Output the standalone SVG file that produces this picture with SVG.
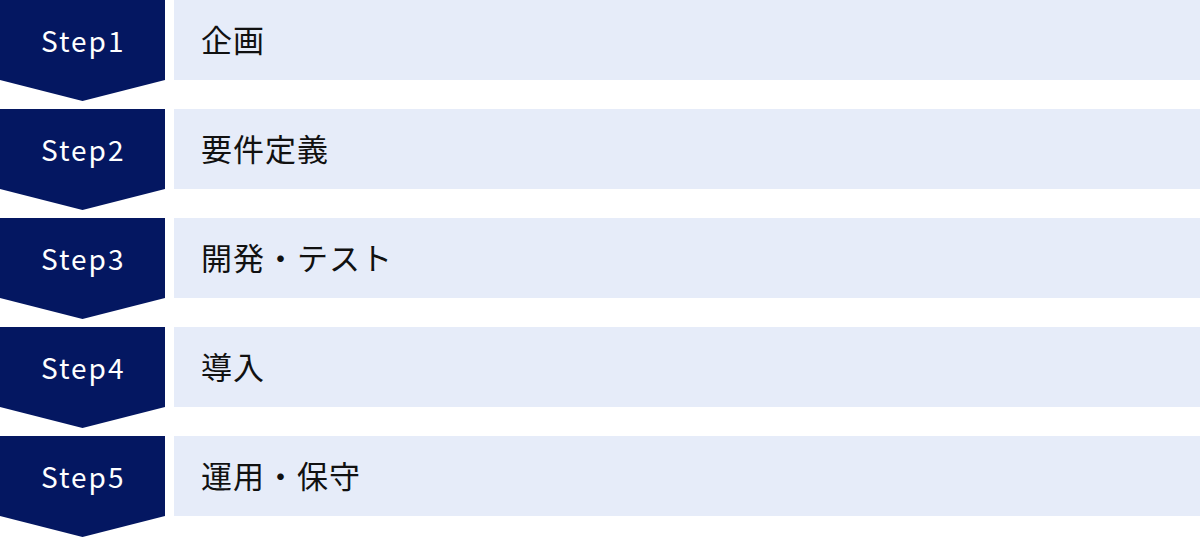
<svg xmlns="http://www.w3.org/2000/svg" width="1200" height="538" viewBox="0 0 1200 538">
  <defs>
    <style>
      .badge { fill: #041761; }
      .bar { fill: #E6ECF9; }
      .step { fill: #ffffff; font-family: "Noto Sans CJK JP", "Noto Sans", sans-serif; font-size: 28px; letter-spacing: 2px; }
      .label { fill: #111111; font-family: "Noto Sans CJK JP", sans-serif; font-size: 31px; letter-spacing: 1px; }
    </style>
    <polygon id="chev" points="0,0 165,0 165,80 82.5,101 0,80"/>
  </defs>
  <rect width="1200" height="538" fill="#ffffff"/>
  <g id="connectors"></g>
  <g id="step1" transform="translate(0,0)">
    <use href="#chev" class="badge"/>
    <rect x="174" y="0" width="1026" height="80" class="bar"/>
    <text x="41" y="52" class="step">Step1</text>
    <text x="201" y="52" class="label">企画</text>
  </g>
  <g id="step2" transform="translate(0,109)">
    <use href="#chev" class="badge"/>
    <rect x="174" y="0" width="1026" height="80" class="bar"/>
    <text x="41" y="52" class="step">Step2</text>
    <text x="201" y="52" class="label">要件定義</text>
  </g>
  <g id="step3" transform="translate(0,218)">
    <use href="#chev" class="badge"/>
    <rect x="174" y="0" width="1026" height="80" class="bar"/>
    <text x="41" y="52" class="step">Step3</text>
    <text x="201" y="52" class="label">開発・テスト</text>
  </g>
  <g id="step4" transform="translate(0,327)">
    <use href="#chev" class="badge"/>
    <rect x="174" y="0" width="1026" height="80" class="bar"/>
    <text x="41" y="52" class="step">Step4</text>
    <text x="201" y="52" class="label">導入</text>
  </g>
  <g id="step5" transform="translate(0,436)">
    <use href="#chev" class="badge"/>
    <rect x="174" y="0" width="1026" height="80" class="bar"/>
    <text x="41" y="52" class="step">Step5</text>
    <text x="201" y="52" class="label">運用・保守</text>
  </g>
</svg>
